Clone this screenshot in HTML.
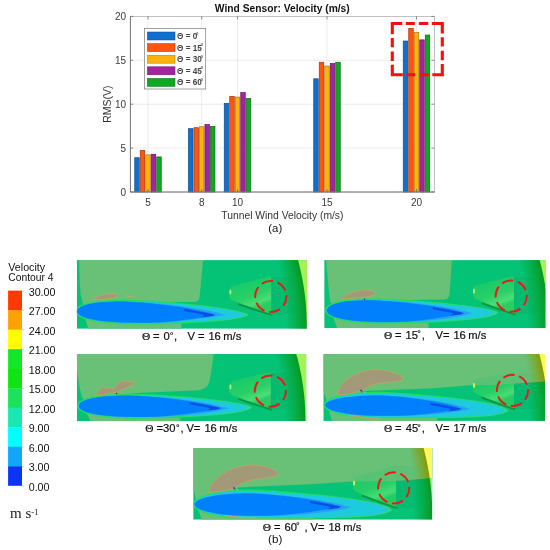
<!DOCTYPE html>
<html lang="en"><head><meta charset="utf-8"><title>Wind Sensor: Velocity</title>
<style>html,body{margin:0;padding:0;background:#fff}body{width:550px;height:550px;overflow:hidden}svg{display:block}text{font-family:"Liberation Sans", sans-serif}</style>
</head><body>
<svg width="550" height="550" viewBox="0 0 550 550">
<rect width="550" height="550" fill="#fff"/>
<defs>
<filter id="b05" x="-10%" y="-10%" width="120%" height="120%"><feGaussianBlur stdDeviation="0.5"/></filter>
<filter id="b1" x="-10%" y="-20%" width="120%" height="140%"><feGaussianBlur stdDeviation="1"/></filter>
<filter id="b2" x="-10%" y="-30%" width="120%" height="160%"><feGaussianBlur stdDeviation="1.8"/></filter>
</defs>
<g id="chart">
<line x1="148.0" y1="16.4" x2="148.0" y2="192.0" stroke="#e4e4e4" stroke-width="0.7"/>
<line x1="201.7" y1="16.4" x2="201.7" y2="192.0" stroke="#e4e4e4" stroke-width="0.7"/>
<line x1="237.5" y1="16.4" x2="237.5" y2="192.0" stroke="#e4e4e4" stroke-width="0.7"/>
<line x1="327.0" y1="16.4" x2="327.0" y2="192.0" stroke="#e4e4e4" stroke-width="0.7"/>
<line x1="416.5" y1="16.4" x2="416.5" y2="192.0" stroke="#e4e4e4" stroke-width="0.7"/>
<line x1="130.4" y1="148.1" x2="434.4" y2="148.1" stroke="#e4e4e4" stroke-width="0.7"/>
<line x1="130.4" y1="104.2" x2="434.4" y2="104.2" stroke="#e4e4e4" stroke-width="0.7"/>
<line x1="130.4" y1="60.3" x2="434.4" y2="60.3" stroke="#e4e4e4" stroke-width="0.7"/>
<rect x="134.75" y="157.72" width="4.50" height="34.28" fill="#1070d0" stroke="#0a4a90" stroke-width="0.7"/>
<rect x="140.25" y="150.32" width="4.50" height="41.68" fill="#ff5510" stroke="#a03808" stroke-width="0.7"/>
<rect x="145.75" y="154.90" width="4.50" height="37.10" fill="#ffb208" stroke="#a87808" stroke-width="0.7"/>
<rect x="151.25" y="154.28" width="4.50" height="37.72" fill="#a424a0" stroke="#661466" stroke-width="0.7"/>
<rect x="156.75" y="156.92" width="4.50" height="35.08" fill="#10a822" stroke="#0a6a14" stroke-width="0.7"/>
<rect x="188.45" y="128.68" width="4.50" height="63.32" fill="#1070d0" stroke="#0a4a90" stroke-width="0.7"/>
<rect x="193.95" y="127.71" width="4.50" height="64.29" fill="#ff5510" stroke="#a03808" stroke-width="0.7"/>
<rect x="199.45" y="126.74" width="4.50" height="65.26" fill="#ffb208" stroke="#a87808" stroke-width="0.7"/>
<rect x="204.95" y="124.54" width="4.50" height="67.46" fill="#a424a0" stroke="#661466" stroke-width="0.7"/>
<rect x="210.45" y="126.48" width="4.50" height="65.52" fill="#10a822" stroke="#0a6a14" stroke-width="0.7"/>
<rect x="224.25" y="103.42" width="4.50" height="88.58" fill="#1070d0" stroke="#0a4a90" stroke-width="0.7"/>
<rect x="229.75" y="96.38" width="4.50" height="95.62" fill="#ff5510" stroke="#a03808" stroke-width="0.7"/>
<rect x="235.25" y="97.08" width="4.50" height="94.92" fill="#ffb208" stroke="#a87808" stroke-width="0.7"/>
<rect x="240.75" y="92.51" width="4.50" height="99.49" fill="#a424a0" stroke="#661466" stroke-width="0.7"/>
<rect x="246.25" y="98.58" width="4.50" height="93.42" fill="#10a822" stroke="#0a6a14" stroke-width="0.7"/>
<rect x="313.75" y="78.78" width="4.50" height="113.22" fill="#1070d0" stroke="#0a4a90" stroke-width="0.7"/>
<rect x="319.25" y="62.24" width="4.50" height="129.76" fill="#ff5510" stroke="#a03808" stroke-width="0.7"/>
<rect x="324.75" y="66.02" width="4.50" height="125.98" fill="#ffb208" stroke="#a87808" stroke-width="0.7"/>
<rect x="330.25" y="63.47" width="4.50" height="128.53" fill="#a424a0" stroke="#661466" stroke-width="0.7"/>
<rect x="335.75" y="62.24" width="4.50" height="129.76" fill="#10a822" stroke="#0a6a14" stroke-width="0.7"/>
<rect x="403.25" y="41.03" width="4.50" height="150.97" fill="#1070d0" stroke="#0a4a90" stroke-width="0.7"/>
<rect x="408.75" y="28.36" width="4.50" height="163.64" fill="#ff5510" stroke="#a03808" stroke-width="0.7"/>
<rect x="414.25" y="32.58" width="4.50" height="159.42" fill="#ffb208" stroke="#a87808" stroke-width="0.7"/>
<rect x="419.75" y="39.88" width="4.50" height="152.12" fill="#a424a0" stroke="#661466" stroke-width="0.7"/>
<rect x="425.25" y="35.04" width="4.50" height="156.96" fill="#10a822" stroke="#0a6a14" stroke-width="0.7"/>
<rect x="130.4" y="16.4" width="304.0" height="175.6" fill="none" stroke="#a8a8a8" stroke-width="0.7"/>
<path d="M130.4 16.4V192.0H434.4" fill="none" stroke="#666" stroke-width="0.8"/>
<path d="M148.0 192.0v-3M148.0 16.4v3" stroke="#666" stroke-width="0.7"/>
<path d="M201.7 192.0v-3M201.7 16.4v3" stroke="#666" stroke-width="0.7"/>
<path d="M237.5 192.0v-3M237.5 16.4v3" stroke="#666" stroke-width="0.7"/>
<path d="M327.0 192.0v-3M327.0 16.4v3" stroke="#666" stroke-width="0.7"/>
<path d="M416.5 192.0v-3M416.5 16.4v3" stroke="#666" stroke-width="0.7"/>
<path d="M130.4 192.0h3M434.4 192.0h-3" stroke="#666" stroke-width="0.7"/>
<path d="M130.4 148.1h3M434.4 148.1h-3" stroke="#666" stroke-width="0.7"/>
<path d="M130.4 104.2h3M434.4 104.2h-3" stroke="#666" stroke-width="0.7"/>
<path d="M130.4 60.3h3M434.4 60.3h-3" stroke="#666" stroke-width="0.7"/>
<path d="M130.4 16.4h3M434.4 16.4h-3" stroke="#666" stroke-width="0.7"/>
<text x="148.0" y="205.6" font-size="10" fill="#3a3a3a" text-anchor="middle">5</text>
<text x="201.7" y="205.6" font-size="10" fill="#3a3a3a" text-anchor="middle">8</text>
<text x="237.5" y="205.6" font-size="10" fill="#3a3a3a" text-anchor="middle">10</text>
<text x="327.0" y="205.6" font-size="10" fill="#3a3a3a" text-anchor="middle">15</text>
<text x="416.5" y="205.6" font-size="10" fill="#3a3a3a" text-anchor="middle">20</text>
<text x="126" y="195.6" font-size="10" fill="#3a3a3a" text-anchor="end">0</text>
<text x="126" y="151.7" font-size="10" fill="#3a3a3a" text-anchor="end">5</text>
<text x="126" y="107.8" font-size="10" fill="#3a3a3a" text-anchor="end">10</text>
<text x="126" y="63.9" font-size="10" fill="#3a3a3a" text-anchor="end">15</text>
<text x="126" y="20.0" font-size="10" fill="#3a3a3a" text-anchor="end">20</text>
<text x="282.3" y="11.9" font-size="10.25" font-weight="bold" fill="#111" text-anchor="middle">Wind Sensor: Velocity (m/s)</text>
<text x="282.4" y="219" font-size="10.3" fill="#333" text-anchor="middle">Tunnel Wind Velocity (m/s)</text>
<text x="275.3" y="232.4" font-size="11.4" fill="#111" text-anchor="middle">(a)</text>
<text transform="translate(111,104.2) rotate(-90)" font-size="10.5" fill="#333" text-anchor="middle">RMS(V)</text>
<rect x="144.5" y="28.4" width="61.2" height="60.6" fill="#fff" stroke="#7a7a7a" stroke-width="0.7"/>
<rect x="147.4" y="32.0" width="27.6" height="8" fill="#1070d0" stroke="#0a4a90" stroke-width="0.5"/>
<text x="177" y="39.0" font-size="8.2" font-weight="bold" fill="#444">Θ = 0<tspan dx="-1.2" dy="-1.5" font-size="6.5">°</tspan></text>
<rect x="147.4" y="43.6" width="27.6" height="8" fill="#ff5510" stroke="#a03808" stroke-width="0.5"/>
<text x="177" y="50.6" font-size="8.2" font-weight="bold" fill="#444">Θ = 15<tspan dx="-1.2" dy="-1.5" font-size="6.5">°</tspan></text>
<rect x="147.4" y="55.2" width="27.6" height="8" fill="#ffb208" stroke="#a87808" stroke-width="0.5"/>
<text x="177" y="62.2" font-size="8.2" font-weight="bold" fill="#444">Θ = 30<tspan dx="-1.2" dy="-1.5" font-size="6.5">°</tspan></text>
<rect x="147.4" y="66.8" width="27.6" height="8" fill="#a424a0" stroke="#661466" stroke-width="0.5"/>
<text x="177" y="73.8" font-size="8.2" font-weight="bold" fill="#444">Θ = 45<tspan dx="-1.2" dy="-1.5" font-size="6.5">°</tspan></text>
<rect x="147.4" y="78.4" width="27.6" height="8" fill="#10a822" stroke="#0a6a14" stroke-width="0.5"/>
<text x="177" y="85.4" font-size="8.2" font-weight="bold" fill="#444">Θ = 60<tspan dx="-1.2" dy="-1.5" font-size="6.5">°</tspan></text>
<path d="M392.3 23.5 H442.3 V74.7 H392.3 Z" fill="none" stroke="#fb0d0d" stroke-width="3.1" stroke-linejoin="miter" stroke-dasharray="10 3.5 9 4 9.5 3.5 20.5 3.7 9.3 4.2 9.5 3.8 20.7 3.5 9.5 4 9 3.5 20.5 3.8 9.5 4.2 9.3 3.7 10.7"/>
</g>
<g id="colorbar">
<text x="8.3" y="271.4" font-size="10.7" fill="#111">Velocity</text>
<text x="8.3" y="281.2" font-size="10.3" fill="#111">Contour 4</text>
<rect x="8.1" y="290.60" width="13.9" height="19.82" fill="#ff3a00"/>
<rect x="8.1" y="310.12" width="13.9" height="19.82" fill="#ffa200"/>
<rect x="8.1" y="329.64" width="13.9" height="19.82" fill="#ffff00"/>
<rect x="8.1" y="349.16" width="13.9" height="19.82" fill="#12e828"/>
<rect x="8.1" y="368.68" width="13.9" height="19.82" fill="#10e410"/>
<rect x="8.1" y="388.20" width="13.9" height="19.82" fill="#1ce25a"/>
<rect x="8.1" y="407.72" width="13.9" height="19.82" fill="#1ae8b0"/>
<rect x="8.1" y="427.24" width="13.9" height="19.82" fill="#00ffff"/>
<rect x="8.1" y="446.76" width="13.9" height="19.82" fill="#12a6f6"/>
<rect x="8.1" y="466.28" width="13.9" height="19.52" fill="#0c34f4"/>
<line x1="22" y1="290.90" x2="24" y2="290.90" stroke="#b8a890" stroke-width="0.6"/>
<text x="28.7" y="295.50" font-size="10.7" fill="#111">30.00</text>
<line x1="22" y1="310.42" x2="24" y2="310.42" stroke="#b8a890" stroke-width="0.6"/>
<text x="28.7" y="315.02" font-size="10.7" fill="#111">27.00</text>
<line x1="22" y1="329.94" x2="24" y2="329.94" stroke="#b8a890" stroke-width="0.6"/>
<text x="28.7" y="334.54" font-size="10.7" fill="#111">24.00</text>
<line x1="22" y1="349.46" x2="24" y2="349.46" stroke="#b8a890" stroke-width="0.6"/>
<text x="28.7" y="354.06" font-size="10.7" fill="#111">21.00</text>
<line x1="22" y1="368.98" x2="24" y2="368.98" stroke="#b8a890" stroke-width="0.6"/>
<text x="28.7" y="373.58" font-size="10.7" fill="#111">18.00</text>
<line x1="22" y1="388.50" x2="24" y2="388.50" stroke="#b8a890" stroke-width="0.6"/>
<text x="28.7" y="393.10" font-size="10.7" fill="#111">15.00</text>
<line x1="22" y1="408.02" x2="24" y2="408.02" stroke="#b8a890" stroke-width="0.6"/>
<text x="28.7" y="412.62" font-size="10.7" fill="#111">12.00</text>
<line x1="22" y1="427.54" x2="24" y2="427.54" stroke="#b8a890" stroke-width="0.6"/>
<text x="28.7" y="432.14" font-size="10.7" fill="#111">9.00</text>
<line x1="22" y1="447.06" x2="24" y2="447.06" stroke="#b8a890" stroke-width="0.6"/>
<text x="28.7" y="451.66" font-size="10.7" fill="#111">6.00</text>
<line x1="22" y1="466.58" x2="24" y2="466.58" stroke="#b8a890" stroke-width="0.6"/>
<text x="28.7" y="471.18" font-size="10.7" fill="#111">3.00</text>
<line x1="22" y1="486.10" x2="24" y2="486.10" stroke="#b8a890" stroke-width="0.6"/>
<text x="28.7" y="490.70" font-size="10.7" fill="#111">0.00</text>
<text x="10.0" y="518.4" font-size="15" fill="#222" style="font-family:'Liberation Serif', serif">m s<tspan dy="-3.2" font-size="8.8">-1</tspan></text>
</g>
<g id="panel1" transform="translate(76.8,260.1)">
<clipPath id="cp1"><rect x="0" y="0" width="230.4" height="68.7"/></clipPath>
<radialGradient id="rg1_0" gradientUnits="userSpaceOnUse" cx="-20.1" cy="65.2" r="262.0">
<stop offset="0.8740" stop-color="#069a22" stop-opacity="0"/>
<stop offset="0.9205" stop-color="#069a22" stop-opacity="0.55"/>
<stop offset="0.9523" stop-color="#069a22" stop-opacity="1"/>
<stop offset="0.9561" stop-color="#a6f058" stop-opacity="1"/>
<stop offset="1" stop-color="#a6f058"/>
</radialGradient>
<linearGradient id="cg1" gradientUnits="userSpaceOnUse" x1="169.7" y1="21.0" x2="179.7" y2="47.5">
<stop offset="0" stop-color="#18ca6a"/><stop offset="0.55" stop-color="#2ad066"/><stop offset="0.85" stop-color="#4ade76"/><stop offset="1" stop-color="#2ccc64"/></linearGradient>
<g clip-path="url(#cp1)">
<rect x="0" y="0" width="230.4" height="68.7" fill="#05c376"/>
<path d="M2.2 0 L3 23.6 L3.9 35 L6.2 44 L9 46 L40 46 L40 42 L117 42 Q122.3 42 122.8 37 L126.3 0Z" fill="#69c077" filter="url(#b05)"/>
<path d="M5 55 L7.7 56.5 L11.5 68.7 H104.6 V63 H50Z" fill="#69c077" filter="url(#b05)"/>
<linearGradient id="bd1" x1="0" y1="0" x2="1" y2="0"><stop offset="0" stop-color="#04b068" stop-opacity="0.5"/><stop offset="0.5" stop-color="#04b068" stop-opacity="0.35"/><stop offset="1" stop-color="#04b068" stop-opacity="0"/></linearGradient>
<rect x="194.4" y="16.9" width="30" height="37.8" fill="url(#bd1)"/>
<path d="M155.0 26.1 L194.4 15.9 L194.4 54.7 L156.0 40.3 Q151.8 38.8 152.4 33.2 Q152.2 27.1 155.0 26.1Z" fill="url(#cg1)" filter="url(#b05)"/>
<path d="M162.0 44.2 Q177.7 49.7 194.9 54.9" fill="none" stroke="#0f9238" stroke-width="1.8" stroke-linecap="round" opacity="0.9" filter="url(#b05)"/>
<ellipse cx="153.6" cy="31.9" rx="1.0" ry="2.6" fill="#c6f070" filter="url(#b05)"/>
<rect x="0" y="0" width="230.4" height="68.7" fill="url(#rg1_0)"/>
<linearGradient id="hg1" gradientUnits="userSpaceOnUse" x1="95" y1="0" x2="168.0" y2="0"><stop offset="0" stop-color="#22e054"/><stop offset="1" stop-color="#34d68c"/></linearGradient>
<path d="M-1.4 51.2 C-1.4 44.0 16.2 39.6 45.0 39.6 C83.1 39.6 159.3 47.1 172.0 54.6 C160.8 62.9 82.4 64.4 60.0 64.4 C21.9 64.4 -1.4 59.4 -1.4 51.2Z" fill="url(#hg1)" filter="url(#b05)" opacity="0.95"/>
<path d="M-0.1 51.2 C-0.1 44.8 17.0 40.9 45.0 40.9 C81.9 40.9 155.7 47.8 168.0 54.6 C157.2 61.8 81.6 63.1 60.0 63.1 C22.7 63.1 -0.1 58.6 -0.1 51.2Z" fill="#1accde" filter="url(#b05)"/>
<path d="M0.2 51.2 C0.2 45.0 17.2 41.2 45.0 41.2 C55.4 41.2 112.6 44.6 149.0 54.8 C100.1 62.2 86.7 62.8 60.0 62.8 C22.9 62.8 0.2 58.4 0.2 51.2Z" fill="#2aa0f4" filter="url(#b05)"/>
<path d="M0.4 51.2 C0.4 45.1 17.3 41.4 45.0 41.4 C54.5 41.4 106.4 44.8 139.5 54.8 C95.8 62.0 83.8 62.6 60.0 62.6 C23.0 62.6 0.4 58.3 0.4 51.2Z" fill="#0480fd" filter="url(#b05)"/>
<path d="M107.2 48.7 L135.2 53.9 Q139.7 54.8 135.2 56.2 L124.2 57.4 Q130.2 55.4 125.2 54.2 L107.2 50.9Z" fill="#0f48e4" opacity="0.9" filter="url(#b05)"/>
<path d="M16.4 39.8 Q22 34.5 32 33.6 Q39 33.4 41.3 36 Q36 38.6 28 39 Q20 39.6 16.4 39.8Z" fill="#a29979" stroke="#d6a252" stroke-width="0.6" filter="url(#b05)"/>
<path d="M48.4 35.3 L56.6 36.5 L52 36.6Z" fill="#d6a252" stroke="#d6a252" stroke-width="0.4"/>
<circle cx="194.0" cy="36.4" r="15.6" fill="none" stroke="#ee1616" stroke-width="1.9" stroke-dasharray="11.7 4.64" stroke-dashoffset="1.9"/>
</g></g>
<g id="panel2" transform="translate(324.2,260.1)">
<clipPath id="cp2"><rect x="0" y="0" width="221.4" height="68.1"/></clipPath>
<radialGradient id="rg2_0" gradientUnits="userSpaceOnUse" cx="-25.9" cy="65.2" r="262.0">
<stop offset="0.8740" stop-color="#069a22" stop-opacity="0"/>
<stop offset="0.9205" stop-color="#069a22" stop-opacity="0.55"/>
<stop offset="0.9523" stop-color="#069a22" stop-opacity="1"/>
<stop offset="0.9561" stop-color="#a6f058" stop-opacity="1"/>
<stop offset="1" stop-color="#a6f058"/>
</radialGradient>
<linearGradient id="cg2" gradientUnits="userSpaceOnUse" x1="165.5" y1="20.6" x2="175.5" y2="46.8">
<stop offset="0" stop-color="#18ca6a"/><stop offset="0.55" stop-color="#2ad066"/><stop offset="0.85" stop-color="#4ade76"/><stop offset="1" stop-color="#2ccc64"/></linearGradient>
<g clip-path="url(#cp2)">
<rect x="0" y="0" width="221.4" height="68.1" fill="#05c376"/>
<path d="M1.9 0 L4.1 25.4 L6 42 L8 45 L40 46 L40 40.6 L119 39.5 Q125 39.5 125.4 34 L127.6 0Z" fill="#69c077" filter="url(#b05)"/>
<path d="M6 54 L8.7 55.9 L13 68.1 H104.3 V62.9 H50Z" fill="#69c077" filter="url(#b05)"/>
<linearGradient id="bd2" x1="0" y1="0" x2="1" y2="0"><stop offset="0" stop-color="#04b068" stop-opacity="0.5"/><stop offset="0.5" stop-color="#04b068" stop-opacity="0.35"/><stop offset="1" stop-color="#04b068" stop-opacity="0"/></linearGradient>
<rect x="189.8" y="16.9" width="30" height="37.2" fill="url(#bd2)"/>
<path d="M151.2 25.2 L189.8 15.9 L189.8 54.1 L152.2 39.4 Q148.0 37.9 148.6 32.3 Q148.4 26.2 151.2 25.2Z" fill="url(#cg2)" filter="url(#b05)"/>
<path d="M158.2 43.3 Q173.5 49.0 190.3 54.3" fill="none" stroke="#0f9238" stroke-width="1.8" stroke-linecap="round" opacity="0.9" filter="url(#b05)"/>
<ellipse cx="149.8" cy="31.0" rx="1.0" ry="2.6" fill="#c6f070" filter="url(#b05)"/>
<rect x="0" y="0" width="221.4" height="68.1" fill="url(#rg2_0)"/>
<linearGradient id="hg2" gradientUnits="userSpaceOnUse" x1="95" y1="0" x2="170.0" y2="0"><stop offset="0" stop-color="#22e054"/><stop offset="1" stop-color="#34d68c"/></linearGradient>
<path d="M0.8 50.4 C0.8 43.0 17.6 38.4 45.0 38.4 C90.2 38.4 167.6 46.7 174.0 52.3 C168.3 62.0 71.4 63.7 60.0 63.7 C23.3 63.7 0.8 58.6 0.8 50.4Z" fill="url(#hg2)" filter="url(#b05)" opacity="0.95"/>
<path d="M2.1 50.4 C2.1 43.8 18.4 39.7 45.0 39.7 C88.8 39.7 163.8 47.3 170.0 52.3 C164.5 60.9 71.0 62.4 60.0 62.4 C24.1 62.4 2.1 57.8 2.1 50.4Z" fill="#1accde" filter="url(#b05)"/>
<path d="M2.4 50.4 C2.4 44.0 18.6 40.0 45.0 40.0 C60.5 40.0 117.1 43.9 148.0 53.1 C121.6 61.2 77.6 62.1 60.0 62.1 C24.3 62.1 2.4 57.7 2.4 50.4Z" fill="#2aa0f4" filter="url(#b05)"/>
<path d="M2.6 50.4 C2.6 44.1 18.7 40.2 45.0 40.2 C54.6 40.2 107.4 43.4 141.0 53.1 C96.5 61.2 84.3 61.9 60.0 61.9 C24.4 61.9 2.6 57.5 2.6 50.4Z" fill="#0480fd" filter="url(#b05)"/>
<path d="M108.6 47.0 L136.6 52.2 Q141.1 53.1 136.6 54.5 L125.6 55.7 Q131.6 53.7 126.6 52.5 L108.6 49.2Z" fill="#0f48e4" opacity="0.9" filter="url(#b05)"/>
<path d="M17.4 38.7 Q20.5 35 25.1 33.2 Q30 31.6 34 31.1 Q38 29.9 41.6 29.8 Q47.5 29.8 51.2 32.4 Q49.5 35 46.7 36.2 Q42 37.3 37.8 37.4 Q28 38.3 17.4 38.7Z" fill="#a29979" stroke="#d6a252" stroke-width="0.6" filter="url(#b05)"/>
<circle cx="40.3" cy="39.1" r="0.8" fill="#183890"/>
<circle cx="187.0" cy="36.0" r="15.6" fill="none" stroke="#ee1616" stroke-width="1.9" stroke-dasharray="11.7 4.64" stroke-dashoffset="1.9"/>
</g></g>
<g id="panel3" transform="translate(76.8,354.0)">
<clipPath id="cp3"><rect x="0" y="0" width="229.6" height="67.3"/></clipPath>
<radialGradient id="rg3_0" gradientUnits="userSpaceOnUse" cx="-6.5" cy="64.6" r="247.0">
<stop offset="0.8664" stop-color="#069a22" stop-opacity="0"/>
<stop offset="0.9157" stop-color="#069a22" stop-opacity="0.55"/>
<stop offset="0.9494" stop-color="#069a22" stop-opacity="1"/>
<stop offset="0.9534" stop-color="#a6f058" stop-opacity="1"/>
<stop offset="1" stop-color="#a6f058"/>
</radialGradient>
<linearGradient id="cg3" gradientUnits="userSpaceOnUse" x1="169.5" y1="22.4" x2="179.5" y2="48.3">
<stop offset="0" stop-color="#18ca6a"/><stop offset="0.55" stop-color="#2ad066"/><stop offset="0.85" stop-color="#4ade76"/><stop offset="1" stop-color="#2ccc64"/></linearGradient>
<g clip-path="url(#cp3)">
<rect x="0" y="0" width="229.6" height="67.3" fill="#05c376"/>
<path d="M0 0 L0.3 17.8 L2.5 32 L4.8 42 L7 46 L40 46 L40 41 L60 39 L118 36.5 Q130 36.5 132.5 28 Q136 10 136.8 0Z" fill="#69c077" filter="url(#b05)"/>
<path d="M6 54.5 L8.2 56 L13.9 67.3 H103.6 V63.9 H50Z" fill="#69c077" filter="url(#b05)"/>
<linearGradient id="bd3" x1="0" y1="0" x2="1" y2="0"><stop offset="0" stop-color="#04b068" stop-opacity="0.5"/><stop offset="0.5" stop-color="#04b068" stop-opacity="0.35"/><stop offset="1" stop-color="#04b068" stop-opacity="0"/></linearGradient>
<rect x="194.0" y="18.9" width="30" height="36.5" fill="url(#bd3)"/>
<path d="M155.0 27.0 L194.0 17.9 L194.0 55.4 L156.0 41.2 Q151.8 39.7 152.4 34.1 Q152.2 28.0 155.0 27.0Z" fill="url(#cg3)" filter="url(#b05)"/>
<path d="M162.0 45.1 Q177.5 50.5 194.5 55.6" fill="none" stroke="#0f9238" stroke-width="1.8" stroke-linecap="round" opacity="0.9" filter="url(#b05)"/>
<ellipse cx="153.6" cy="32.8" rx="1.0" ry="2.6" fill="#c6f070" filter="url(#b05)"/>
<rect x="0" y="0" width="229.6" height="67.3" fill="url(#rg3_0)"/>
<linearGradient id="hg3" gradientUnits="userSpaceOnUse" x1="95" y1="0" x2="171.0" y2="0"><stop offset="0" stop-color="#22e054"/><stop offset="1" stop-color="#34d68c"/></linearGradient>
<path d="M0.2 52.0 C0.2 44.4 19.9 39.8 52.0 39.8 C95.0 39.8 168.8 47.8 175.0 53.2 C169.2 63.0 71.5 64.7 60.0 64.7 C22.9 64.7 0.2 59.9 0.2 52.0Z" fill="url(#hg3)" filter="url(#b05)" opacity="0.95"/>
<path d="M1.5 52.0 C1.5 45.2 20.7 41.1 52.0 41.1 C93.7 41.1 165.1 48.4 171.0 53.2 C165.4 61.9 71.1 63.4 60.0 63.4 C23.7 63.4 1.5 59.1 1.5 52.0Z" fill="#1accde" filter="url(#b05)"/>
<path d="M1.8 52.0 C1.8 45.4 20.9 41.4 52.0 41.4 C67.1 41.4 122.3 45.2 152.4 54.2 C124.7 62.2 78.5 63.1 60.0 63.1 C23.9 63.1 1.8 58.9 1.8 52.0Z" fill="#2aa0f4" filter="url(#b05)"/>
<path d="M2.0 52.0 C2.0 45.6 21.0 41.6 52.0 41.6 C61.3 41.6 112.7 44.8 145.4 54.2 C98.4 62.2 85.6 62.9 60.0 62.9 C24.0 62.9 2.0 58.8 2.0 52.0Z" fill="#0480fd" filter="url(#b05)"/>
<path d="M112.8 48.1 L140.8 53.3 Q145.3 54.2 140.8 55.6 L129.8 56.8 Q135.8 54.8 130.8 53.6 L112.8 50.3Z" fill="#0f48e4" opacity="0.9" filter="url(#b05)"/>
<path d="M18.1 41.4 L25.7 32.5 L28.9 35 L32.7 33.3 L35.9 35 L43.6 27.4 Q51 25.8 58.9 29.3 Q52 33 46 35.6 Q42 37.5 39.7 38.2 Q28 40.8 18.1 41.4Z" fill="#a29979" stroke="#d6a252" stroke-width="0.6" filter="url(#b05)"/>
<circle cx="39.7" cy="39.5" r="0.8" fill="#183890"/>
<circle cx="193.5" cy="37.1" r="15.6" fill="none" stroke="#ee1616" stroke-width="1.9" stroke-dasharray="11.7 4.64" stroke-dashoffset="1.9"/>
</g></g>
<g id="panel4" transform="translate(323.3,354.0)">
<clipPath id="cp4"><rect x="0" y="0" width="221.9" height="66.9"/></clipPath>
<radialGradient id="rg4_0" gradientUnits="userSpaceOnUse" cx="-25.3" cy="65.1" r="262.0">
<stop offset="0.8969" stop-color="#849c0a" stop-opacity="0"/>
<stop offset="0.9302" stop-color="#849c0a" stop-opacity="0.55"/>
<stop offset="0.9523" stop-color="#849c0a" stop-opacity="1"/>
<stop offset="0.9561" stop-color="#fff85c" stop-opacity="1"/>
<stop offset="1" stop-color="#fff85c"/>
</radialGradient>
<clipPath id="ac4_0"><path d="M0 0 H221.9 V27.5 L166.7 31.3 L150 31 L0 40Z"/></clipPath>
<radialGradient id="rg4_1" gradientUnits="userSpaceOnUse" cx="-25.3" cy="65.1" r="262.0">
<stop offset="0.8817" stop-color="#069a22" stop-opacity="0"/>
<stop offset="0.9237" stop-color="#069a22" stop-opacity="0.55"/>
<stop offset="0.9523" stop-color="#069a22" stop-opacity="1"/>
<stop offset="0.9561" stop-color="#a6f058" stop-opacity="1"/>
<stop offset="1" stop-color="#a6f058"/>
</radialGradient>
<clipPath id="ac4_1"><path d="M0 40 L150 31 L166.7 31.3 L221.9 27.5 V67 H0Z"/></clipPath>
<linearGradient id="cg4" gradientUnits="userSpaceOnUse" x1="166.4" y1="21.7" x2="176.4" y2="47.5">
<stop offset="0" stop-color="#16c86a"/><stop offset="0.55" stop-color="#28ce66"/><stop offset="0.85" stop-color="#46dc74"/><stop offset="1" stop-color="#2aca64"/></linearGradient>
<g clip-path="url(#cp4)">
<rect x="0" y="0" width="221.9" height="66.9" fill="#05c376"/>
<path d="M0 0 L0 36.8 L3.6 47 L6 48 L40 46 L40 37 L111 34.3 L150 31 L166.7 31.3 L221.9 27.5 V0Z" fill="#69c077" filter="url(#b05)"/>
<path d="M3 53 L4.7 54 L8.8 67 H113.8 V62.6 H50Z" fill="#69c077" filter="url(#b05)"/>
<linearGradient id="bd4" x1="0" y1="0" x2="1" y2="0"><stop offset="0" stop-color="#04ac66" stop-opacity="0.5"/><stop offset="0.5" stop-color="#04ac66" stop-opacity="0.35"/><stop offset="1" stop-color="#04ac66" stop-opacity="0"/></linearGradient>
<rect x="190.7" y="18.9" width="30" height="36.1" fill="url(#bd4)"/>
<path d="M152.1 25.5 L190.7 17.9 L190.7 55.0 L153.1 40.0 Q148.9 38.5 149.5 32.8 Q149.3 26.5 152.1 25.5Z" fill="url(#cg4)" filter="url(#b05)"/>
<path d="M148 31.1 L166.7 31.3 L221.9 27.5 V0 H148Z" fill="#69c077" opacity="0.78"/>
<path d="M159.1 43.9 Q174.4 49.7 191.2 55.2" fill="none" stroke="#0f9238" stroke-width="1.8" stroke-linecap="round" opacity="0.9" filter="url(#b05)"/>
<ellipse cx="150.7" cy="31.4" rx="1.0" ry="2.6" fill="#e8f060" filter="url(#b05)"/>
<rect x="0" y="0" width="221.9" height="66.9" fill="url(#rg4_0)" clip-path="url(#ac4_0)"/>
<rect x="0" y="0" width="221.9" height="66.9" fill="url(#rg4_1)" clip-path="url(#ac4_1)"/>
<linearGradient id="hg4" gradientUnits="userSpaceOnUse" x1="95" y1="0" x2="181.4" y2="0"><stop offset="0" stop-color="#22e054"/><stop offset="1" stop-color="#34d68c"/></linearGradient>
<path d="M0.1 51.0 C0.1 45.5 16.0 37.8 57.0 37.8 C63.4 37.8 179.0 44.5 185.4 57.0 C172.9 64.3 141.5 64.3 60.0 64.3 C16.9 64.3 0.1 56.6 0.1 51.0Z" fill="url(#hg4)" filter="url(#b05)" opacity="0.95"/>
<path d="M1.4 51.0 C1.4 46.0 17.0 39.1 57.0 39.1 C63.2 39.1 175.2 45.4 181.4 57.0 C169.3 63.0 138.9 63.0 60.0 63.0 C17.8 63.0 1.4 56.0 1.4 51.0Z" fill="#1accde" filter="url(#b05)"/>
<path d="M1.7 51.0 C1.7 46.9 17.2 41.3 57.0 41.3 C66.0 41.3 115.5 44.7 147.0 55.0 C120.9 61.4 77.4 62.1 60.0 62.1 C18.0 62.1 1.7 55.7 1.7 51.0Z" fill="#2aa0f4" filter="url(#b05)"/>
<path d="M2.0 51.0 C2.0 47.1 17.4 41.6 57.0 41.6 C65.2 41.6 110.6 44.9 139.5 54.9 C95.8 61.2 83.8 61.8 60.0 61.8 C18.2 61.8 2.0 55.5 2.0 51.0Z" fill="#0480fd" filter="url(#b05)"/>
<path d="M106.9 48.8 L134.9 54.0 Q139.4 54.9 134.9 56.3 L123.9 57.5 Q129.9 55.5 124.9 54.3 L106.9 51.0Z" fill="#0f48e4" opacity="0.9" filter="url(#b05)"/>
<path d="M14.6 40.8 Q15 33 20.1 28.8 Q26 22 35.3 19 Q43 16 50.6 15.7 Q60 15.5 68.1 17.9 Q76 20 79 23.4 Q80 25.5 78 26.6 Q71 28 63.7 28.4 Q55 29 48.5 31 Q44 33 40.8 35.4 Q38 37 35.3 37.6 Q28 40 20 40.8Z" fill="#a29979" stroke="#d6a252" stroke-width="0.6" filter="url(#b05)"/>
<path d="M25.5 61.2 Q40 65.6 56.1 64.4 Q40 63.6 25.5 61.2Z" fill="#a29979" stroke="#d6a252" stroke-width="0.5" filter="url(#b05)"/>
<circle cx="38.7" cy="37.5" r="0.9" fill="#e03060"/>
<circle cx="37.7" cy="36.4" r="0.9" fill="#2040d0"/>
<path d="M39.3 38.5 l3 -1.2 l0 1.8z" fill="#30e0e0"/>
<circle cx="189.2" cy="36.4" r="15.6" fill="none" stroke="#ee1616" stroke-width="1.9" stroke-dasharray="11.7 4.64" stroke-dashoffset="1.9"/>
</g></g>
<g id="panel5" transform="translate(193.2,448.0)">
<clipPath id="cp5"><rect x="0" y="0" width="239.2" height="71.7"/></clipPath>
<radialGradient id="rg5_0" gradientUnits="userSpaceOnUse" cx="-11.0" cy="65.2" r="262.0">
<stop offset="0.8969" stop-color="#849c0a" stop-opacity="0"/>
<stop offset="0.9302" stop-color="#849c0a" stop-opacity="0.55"/>
<stop offset="0.9523" stop-color="#849c0a" stop-opacity="1"/>
<stop offset="0.9561" stop-color="#fff85c" stop-opacity="1"/>
<stop offset="1" stop-color="#fff85c"/>
</radialGradient>
<clipPath id="ac5_0"><path d="M0 0 H239.2 V29.9 L202 33 L160.2 33.4 L0 43Z"/></clipPath>
<radialGradient id="rg5_1" gradientUnits="userSpaceOnUse" cx="-11.0" cy="65.2" r="262.0">
<stop offset="0.8817" stop-color="#069a22" stop-opacity="0"/>
<stop offset="0.9237" stop-color="#069a22" stop-opacity="0.55"/>
<stop offset="0.9523" stop-color="#069a22" stop-opacity="1"/>
<stop offset="0.9561" stop-color="#a6f058" stop-opacity="1"/>
<stop offset="1" stop-color="#a6f058"/>
</radialGradient>
<clipPath id="ac5_1"><path d="M0 43 L160.2 33.4 L202 33 L239.2 29.9 V71.8 H0Z"/></clipPath>
<linearGradient id="cg5" gradientUnits="userSpaceOnUse" x1="177.6" y1="22.9" x2="187.6" y2="51.9">
<stop offset="0" stop-color="#16c86a"/><stop offset="0.55" stop-color="#28ce66"/><stop offset="0.85" stop-color="#46dc74"/><stop offset="1" stop-color="#2aca64"/></linearGradient>
<g clip-path="url(#cp5)">
<rect x="0" y="0" width="239.2" height="71.7" fill="#05c376"/>
<path d="M0 0 L0 39 L3.1 52.7 L6 53 L44 50 L44 39.5 L111.7 36.6 L160.2 33.4 L202 33 L239.2 29.9 V0Z" fill="#69c077" filter="url(#b05)"/>
<path d="M2.5 58 L4.1 59.1 L8.6 71.8 H120 V68.7 H50Z" fill="#69c077" filter="url(#b05)"/>
<linearGradient id="bd5" x1="0" y1="0" x2="1" y2="0"><stop offset="0" stop-color="#04ac66" stop-opacity="0.5"/><stop offset="0.5" stop-color="#04ac66" stop-opacity="0.35"/><stop offset="1" stop-color="#04ac66" stop-opacity="0"/></linearGradient>
<rect x="202.9" y="18.1" width="30" height="41.7" fill="url(#bd5)"/>
<path d="M162.3 28.7 L202.9 17.1 L202.9 59.8 L163.3 44.0 Q159.1 42.5 159.7 36.4 Q159.5 29.7 162.3 28.7Z" fill="url(#cg5)" filter="url(#b05)"/>
<path d="M158 33.5 L202 33 L239.2 29.9 V0 H158Z" fill="#69c077" opacity="0.78"/>
<path d="M169.3 47.9 Q185.6 54.1 203.4 60.0" fill="none" stroke="#0f9238" stroke-width="1.8" stroke-linecap="round" opacity="0.9" filter="url(#b05)"/>
<ellipse cx="160.9" cy="35.1" rx="1.0" ry="2.6" fill="#e8f060" filter="url(#b05)"/>
<rect x="0" y="0" width="239.2" height="71.7" fill="url(#rg5_0)" clip-path="url(#ac5_0)"/>
<rect x="0" y="0" width="239.2" height="71.7" fill="url(#rg5_1)" clip-path="url(#ac5_1)"/>
<linearGradient id="hg5" gradientUnits="userSpaceOnUse" x1="95" y1="0" x2="194.9" y2="0"><stop offset="0" stop-color="#22e054"/><stop offset="1" stop-color="#34d68c"/></linearGradient>
<path d="M-0.4 56.3 C-0.4 50.1 15.7 41.5 57.0 41.5 C64.1 41.5 191.8 48.8 198.9 62.4 C185.0 70.5 150.3 70.5 60.0 70.5 C16.5 70.5 -0.4 62.3 -0.4 56.3Z" fill="url(#hg5)" filter="url(#b05)" opacity="0.95"/>
<path d="M0.9 56.3 C0.9 50.6 16.6 42.8 57.0 42.8 C63.9 42.8 188.0 49.7 194.9 62.4 C181.4 69.2 147.7 69.2 60.0 69.2 C17.4 69.2 0.9 61.7 0.9 56.3Z" fill="#1accde" filter="url(#b05)"/>
<path d="M1.2 56.3 C1.2 51.6 16.8 45.1 57.0 45.1 C67.1 45.1 122.8 48.6 158.3 59.2 C128.8 67.2 79.7 68.1 60.0 68.1 C17.7 68.1 1.2 61.3 1.2 56.3Z" fill="#2aa0f4" filter="url(#b05)"/>
<path d="M1.5 56.3 C1.5 51.7 17.0 45.4 57.0 45.4 C66.2 45.4 116.9 48.8 149.2 58.8 C100.1 67.1 86.8 67.8 60.0 67.8 C17.9 67.8 1.5 61.1 1.5 56.3Z" fill="#0480fd" filter="url(#b05)"/>
<path d="M116.8 52.7 L144.8 57.9 Q149.3 58.8 144.8 60.2 L133.8 61.4 Q139.8 59.4 134.8 58.2 L116.8 54.9Z" fill="#0f48e4" opacity="0.9" filter="url(#b05)"/>
<path d="M15.7 44.3 Q16 38 20.1 34.5 Q27 26 35.3 22.5 Q45 18 55 17 Q66 16.5 74.6 19.2 Q82 21.5 84.4 24.6 Q85.3 26.8 83.3 27.9 Q74 30 63.7 31.2 Q56 32.5 50.6 34.5 Q47 36.5 44 38.8 Q40 41 35.3 42.1 Q27 44 15.7 44.3Z" fill="#a29979" stroke="#d6a252" stroke-width="0.6" filter="url(#b05)"/>
<path d="M31 67.6 Q47 71 63.7 69.9 Q47 69.4 31 67.6Z" fill="#a29979" stroke="#d6a252" stroke-width="0.5" filter="url(#b05)"/>
<circle cx="41.8" cy="41.1" r="0.9" fill="#e03060"/>
<circle cx="40.8" cy="40.0" r="0.9" fill="#2040d0"/>
<path d="M42.4 42.1 l3 -1.2 l0 1.8z" fill="#30e0e0"/>
<circle cx="200.5" cy="39.9" r="15.6" fill="none" stroke="#ee1616" stroke-width="1.9" stroke-dasharray="11.7 4.64" stroke-dashoffset="1.9"/>
</g></g>
<text y="340.4" font-size="11.2" fill="#111" stroke="#111" stroke-width="0.2"><tspan x="142.1" style="font-family:'Liberation Serif',serif" font-size="11.4">Θ</tspan><tspan x="153.1">=</tspan><tspan x="163.6">0</tspan><tspan x="169.7" dy="-1.6" font-size="9">°</tspan><tspan x="174.1" dy="1.6">,</tspan><tspan x="187.4">V</tspan><tspan x="197.9">=</tspan><tspan x="208.4">16</tspan><tspan x="223.3">m/s</tspan></text>
<text y="338.7" font-size="11.2" fill="#111" stroke="#111" stroke-width="0.2"><tspan x="384.1" style="font-family:'Liberation Serif',serif" font-size="11.4">Θ</tspan><tspan x="395.1">=</tspan><tspan x="405.6">15</tspan><tspan x="417.3" dy="-1.6" font-size="9">°</tspan><tspan x="421.7" dy="1.6">,</tspan><tspan x="435.6">V=</tspan><tspan x="453.4">16</tspan><tspan x="468.3">m/s</tspan></text>
<text y="432.4" font-size="11.2" fill="#111" stroke="#111" stroke-width="0.2"><tspan x="145.3" style="font-family:'Liberation Serif',serif" font-size="11.4">Θ</tspan><tspan x="156.5">=30</tspan><tspan x="176.1" dy="-1.6" font-size="9">°</tspan><tspan x="180.5" dy="1.6">,</tspan><tspan x="186.4">V=</tspan><tspan x="204.4">16</tspan><tspan x="219.3">m/s</tspan></text>
<text y="432.4" font-size="11.2" fill="#111" stroke="#111" stroke-width="0.2"><tspan x="384.1" style="font-family:'Liberation Serif',serif" font-size="11.4">Θ</tspan><tspan x="395.1">=</tspan><tspan x="405.7">45</tspan><tspan x="417.3" dy="-1.6" font-size="9">°</tspan><tspan x="421.7" dy="1.6">,</tspan><tspan x="435.6">V=</tspan><tspan x="453.4">17</tspan><tspan x="468.3">m/s</tspan></text>
<text y="530.6" font-size="11.2" fill="#111" stroke="#111" stroke-width="0.2"><tspan x="262.7" style="font-family:'Liberation Serif',serif" font-size="11.4">Θ</tspan><tspan x="273.9">=</tspan><tspan x="284.6">60</tspan><tspan x="296.1" dy="-1.6" font-size="9">°</tspan><tspan x="304.5" dy="1.6">,</tspan><tspan x="310.6">V=</tspan><tspan x="328.4">18</tspan><tspan x="343.3">m/s</tspan></text>
<text x="275.2" y="543.4" font-size="11.6" fill="#111" text-anchor="middle">(b)</text>
</svg></body></html>
